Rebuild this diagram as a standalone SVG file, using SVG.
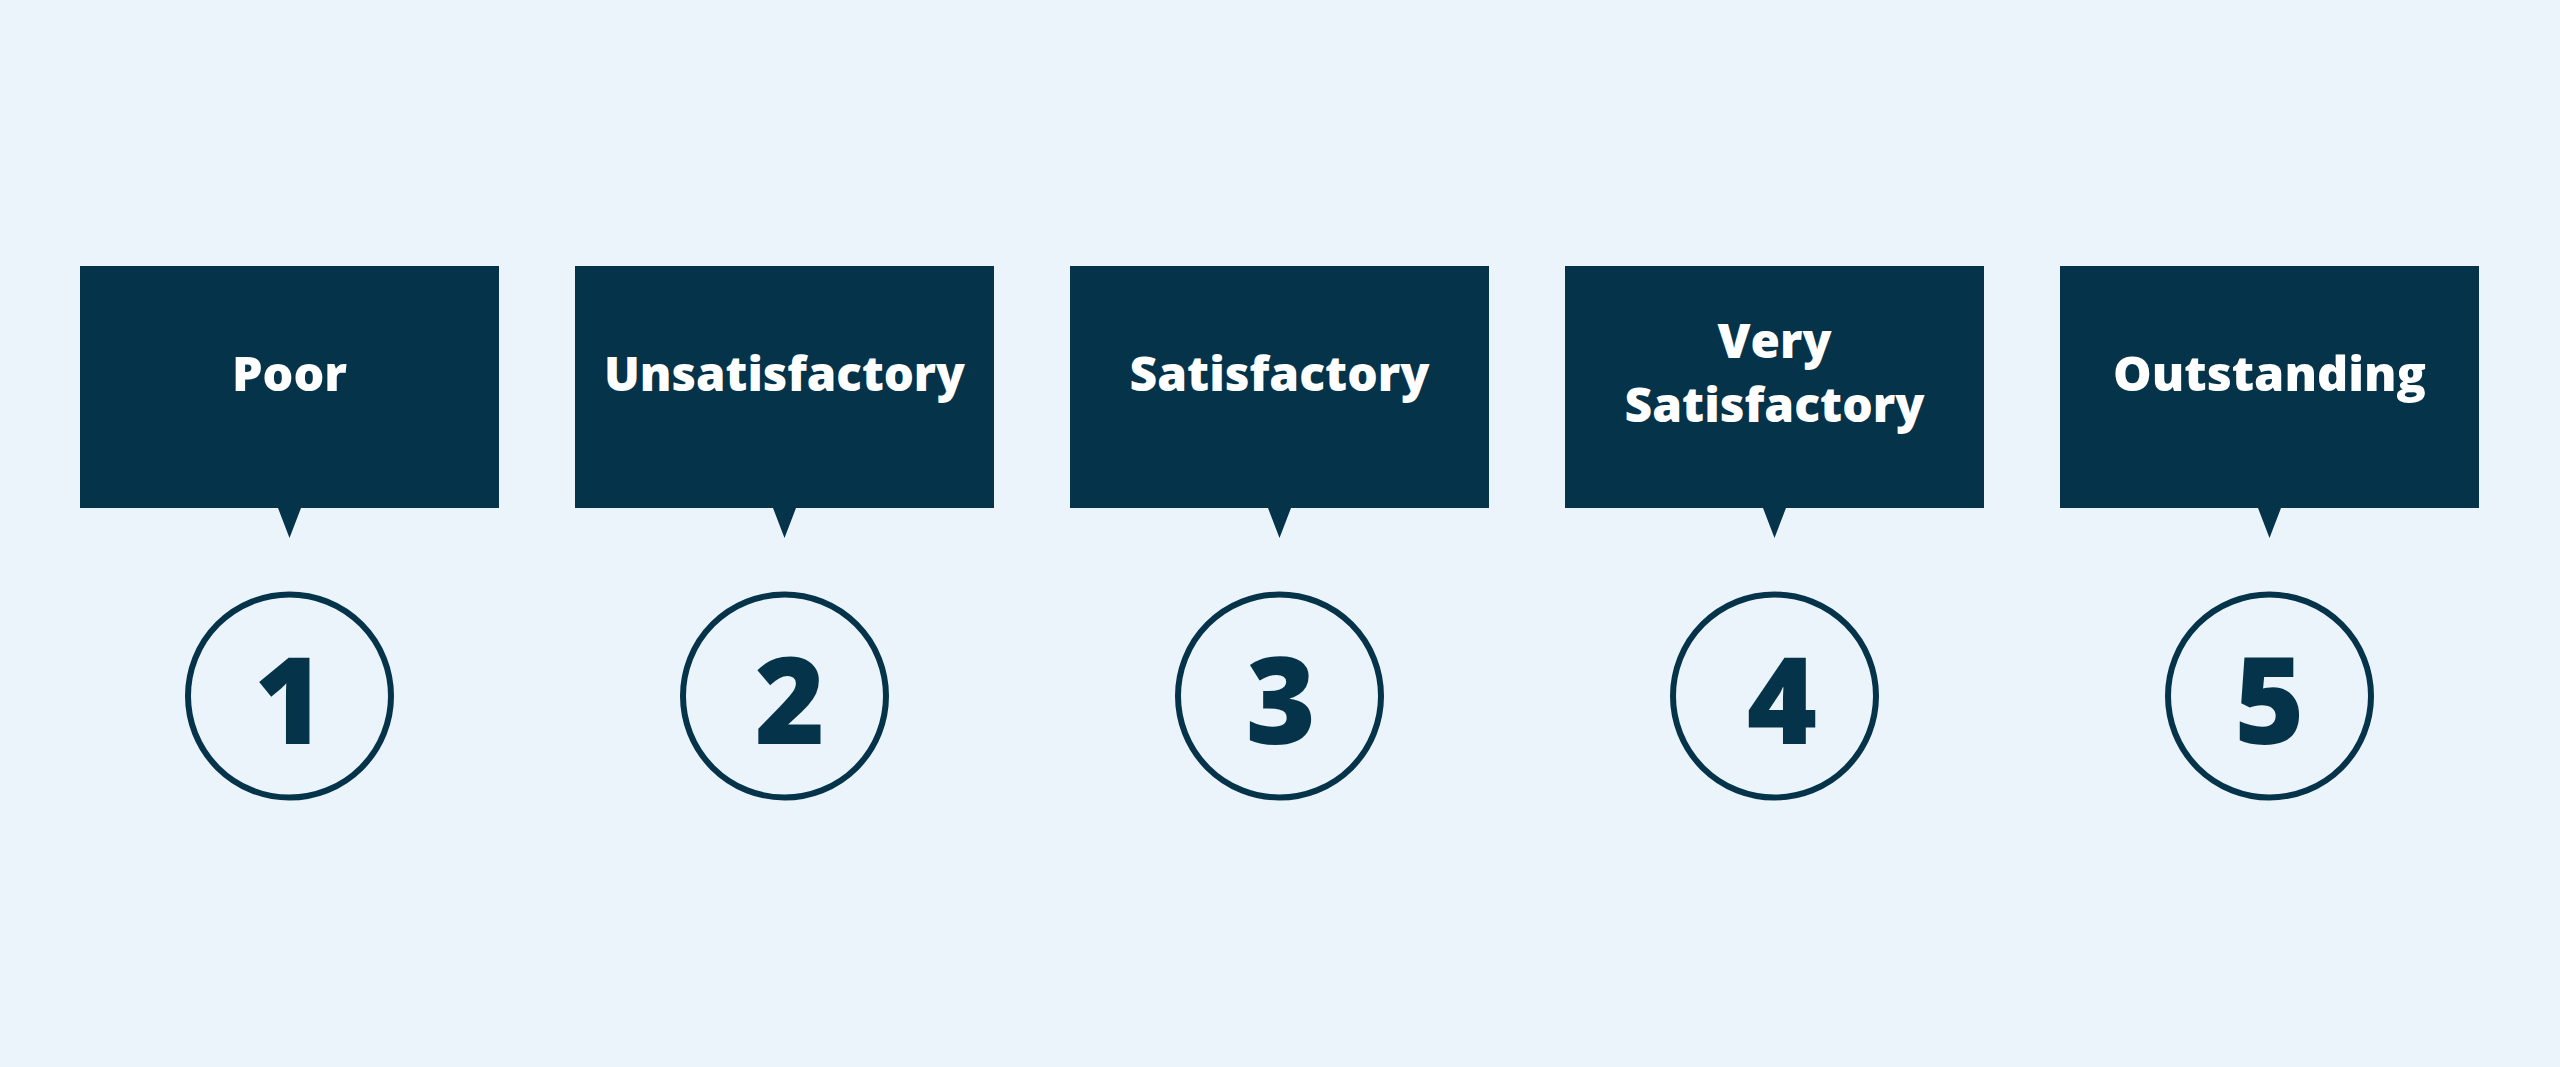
<svg xmlns="http://www.w3.org/2000/svg" width="2560" height="1067" viewBox="0 0 2560 1067">
<style>
.box{fill:#04334a}
.ring{fill:none;stroke:#04334a;stroke-width:6}
.lbl{font-family:"Open Sans","Liberation Sans",sans-serif;font-weight:800;font-size:48px;fill:#ffffff;text-anchor:middle}
.num{font-family:"Open Sans","Liberation Sans",sans-serif;font-weight:800;font-size:120px;fill:#04334a;text-anchor:middle}
</style>
<rect width="2560" height="1067" fill="#ecf4fb"/>
<g id="connectors"></g>
<g id="node1">
<path class="box" d="M80,266H499V508H301L289.5,538L278,508H80Z"/>
<text class="lbl" x="289.5" y="391" textLength="115" lengthAdjust="spacingAndGlyphs">Poor</text>
<circle class="ring" cx="289.5" cy="696" r="101.5"/>
<text class="num" x="289.5" y="744">1</text>
</g>
<g id="node2">
<path class="box" d="M575,266H994V508H796L784.5,538L773,508H575Z"/>
<text class="lbl" x="784.5" y="391" textLength="361" lengthAdjust="spacingAndGlyphs">Unsatisfactory</text>
<circle class="ring" cx="784.5" cy="696" r="101.5"/>
<text class="num" x="790" y="744">2</text>
</g>
<g id="node3">
<path class="box" d="M1070,266H1489V508H1291L1279.5,538L1268,508H1070Z"/>
<text class="lbl" x="1279.5" y="391" textLength="300" lengthAdjust="spacingAndGlyphs">Satisfactory</text>
<circle class="ring" cx="1279.5" cy="696" r="101.5"/>
<text class="num" x="1281" y="744">3</text>
</g>
<g id="node4">
<path class="box" d="M1565,266H1984V508H1786L1774.5,538L1763,508H1565Z"/>
<text class="lbl" x="1774.5" y="357.6" textLength="114" lengthAdjust="spacingAndGlyphs">Very</text>
<text class="lbl" x="1774.5" y="422.4" textLength="300" lengthAdjust="spacingAndGlyphs">Satisfactory</text>
<circle class="ring" cx="1774.5" cy="696" r="101.5"/>
<text class="num" x="1782" y="744">4</text>
</g>
<g id="node5">
<path class="box" d="M2060,266H2479V508H2281L2269.5,538L2258,508H2060Z"/>
<text class="lbl" x="2269.5" y="391" textLength="313" lengthAdjust="spacingAndGlyphs">Outstanding</text>
<circle class="ring" cx="2269.5" cy="696" r="101.5"/>
<text class="num" x="2269.5" y="744">5</text>
</g>
</svg>
